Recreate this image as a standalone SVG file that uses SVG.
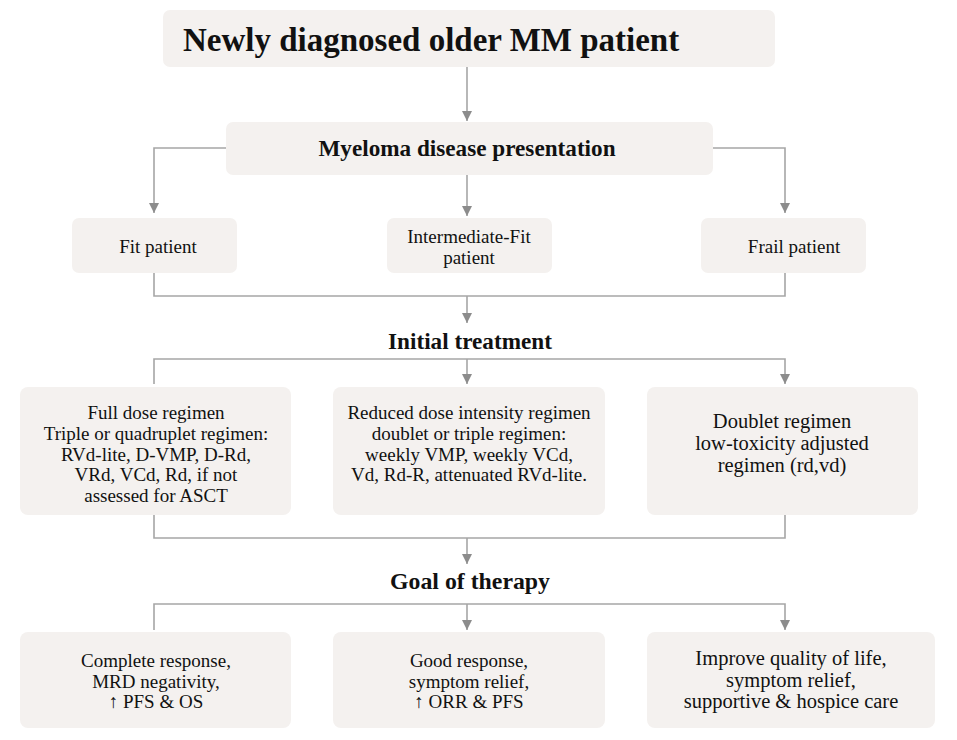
<svg xmlns="http://www.w3.org/2000/svg" width="957" height="740" viewBox="0 0 957 740">
<defs>
<style>
.box{fill:#f4f1ef;}
.ln{fill:none;stroke:#a6a6a6;stroke-width:1.6;}
.t{font-family:"Liberation Serif","Times New Roman",serif;fill:#111;}
.b{font-weight:bold;}
.r{font-size:19px;}
.m{text-anchor:middle;}
</style>
<marker id="ah" viewBox="0 0 10 10" refX="10" refY="5" markerWidth="10" markerHeight="10" markerUnits="userSpaceOnUse" orient="auto">
<path d="M0,0 L10,5 L0,10 Z" fill="#8c8c8c"/>
</marker>
</defs>
<rect width="957" height="740" fill="#ffffff"/>

<g id="connectors">
<path class="ln" d="M467,67 V121" marker-end="url(#ah)"/>
<path class="ln" d="M226,148 H154 V213" marker-end="url(#ah)"/>
<path class="ln" d="M713,148 H785 V213" marker-end="url(#ah)"/>
<path class="ln" d="M467,175 V216" marker-end="url(#ah)"/>
<path class="ln" d="M154,273 V296 H785 V273"/>
<path class="ln" d="M467,296 V323" marker-end="url(#ah)"/>
<path class="ln" d="M154,384 V359 H785 V384" marker-end="url(#ah)"/>
<path class="ln" d="M467,359 V384" marker-end="url(#ah)"/>
<path class="ln" d="M154,515 V538 H785 V515"/>
<path class="ln" d="M467,538 V564" marker-end="url(#ah)"/>
<path class="ln" d="M154,630 V604 H785 V630" marker-end="url(#ah)"/>
<path class="ln" d="M467,604 V630" marker-end="url(#ah)"/>
</g>

<g id="n-title">
<rect class="box" x="163" y="10" width="612" height="57" rx="7"/>
<text class="t b" x="183" y="51" font-size="33">Newly diagnosed older MM patient</text>
</g>

<g id="n-presentation">
<rect class="box" x="226" y="122" width="487" height="53" rx="7"/>
<text class="t b m" x="467" y="156" font-size="23.2">Myeloma disease presentation</text>
</g>

<g id="n-fit">
<rect class="box" x="72" y="218" width="165" height="55" rx="7"/>
<text class="t r m" x="158" y="253">Fit patient</text>
</g>

<g id="n-intermediate">
<rect class="box" x="387" y="218" width="165" height="55" rx="7"/>
<text class="t r m"><tspan x="469" y="243">Intermediate-Fit</tspan><tspan x="469" y="264">patient</tspan></text>
</g>

<g id="n-frail">
<rect class="box" x="701" y="218" width="165" height="55" rx="7"/>
<text class="t r m" x="794" y="253">Frail patient</text>
</g>

<g id="n-initial">
<text class="t b m" x="470" y="349" font-size="23.2">Initial treatment</text>
</g>

<g id="n-full">
<rect class="box" x="20" y="387" width="271" height="128" rx="8"/>
<text class="t r m"><tspan x="156" y="419">Full dose regimen</tspan><tspan x="156" y="439.8">Triple or quadruplet regimen:</tspan><tspan x="156" y="460.6">RVd-lite, D-VMP, D-Rd,</tspan><tspan x="156" y="481.4">VRd, VCd, Rd, if not</tspan><tspan x="156" y="502.2">assessed for ASCT</tspan></text>
</g>

<g id="n-reduced">
<rect class="box" x="333" y="387" width="272" height="128" rx="8"/>
<text class="t r m"><tspan x="469" y="419">Reduced dose intensity regimen</tspan><tspan x="469" y="439.8">doublet or triple regimen:</tspan><tspan x="469" y="460.6">weekly VMP, weekly VCd,</tspan><tspan x="469" y="481.4">Vd, Rd-R, attenuated RVd-lite.</tspan></text>
</g>

<g id="n-doublet">
<rect class="box" x="647" y="387" width="271" height="128" rx="8"/>
<text class="t m" font-size="20.5"><tspan x="782" y="428">Doublet regimen</tspan><tspan x="782" y="450">low-toxicity adjusted</tspan><tspan x="782" y="472">regimen (rd,vd)</tspan></text>
</g>

<g id="n-goal">
<text class="t b m" x="470" y="589" font-size="23.8">Goal of therapy</text>
</g>

<g id="n-complete">
<rect class="box" x="20" y="632" width="271" height="96" rx="8"/>
<text class="t r m"><tspan x="156" y="667">Complete response,</tspan><tspan x="156" y="687.5">MRD negativity,</tspan><tspan x="156" y="708">↑ PFS &amp; OS</tspan></text>
</g>

<g id="n-good">
<rect class="box" x="333" y="632" width="272" height="96" rx="8"/>
<text class="t r m"><tspan x="469" y="667">Good response,</tspan><tspan x="469" y="687.5">symptom relief,</tspan><tspan x="469" y="708">↑ ORR &amp; PFS</tspan></text>
</g>

<g id="n-quality">
<rect class="box" x="647" y="632" width="288" height="96" rx="8"/>
<text class="t m" font-size="20.5"><tspan x="791" y="665">Improve quality of life,</tspan><tspan x="791" y="686.5">symptom relief,</tspan><tspan x="791" y="708">supportive &amp; hospice care</tspan></text>
</g>
</svg>
